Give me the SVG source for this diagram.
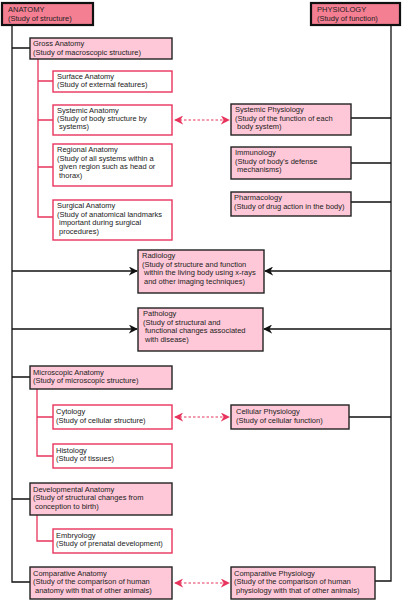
<svg xmlns="http://www.w3.org/2000/svg" width="408" height="600" viewBox="0 0 408 600">
<defs>
<style>
text{font-family:"Liberation Sans",Arial,sans-serif;font-size:7.5px;fill:#222}
.top{fill:#f47e92;stroke:#111;stroke-width:2.2}
.dk{fill:#ffc8d8;stroke:#222;stroke-width:1.4}
.wh{fill:#fff;stroke:#e8345c;stroke-width:1.4}
.bl{fill:none;stroke:#111;stroke-width:1.3}
.rd{fill:none;stroke:#e8345c;stroke-width:1.3}
.da{fill:none;stroke:#e8345c;stroke-width:1.2;stroke-dasharray:2.5 2}
</style>
<marker id="ab" viewBox="0 0 10 10" refX="9" refY="5" markerWidth="9" markerHeight="9" markerUnits="userSpaceOnUse" orient="auto"><path d="M0,0 L10,5 L0,10 L3,5 Z" fill="#111"/></marker>
<marker id="ar" viewBox="0 0 10 10" refX="9" refY="5" markerWidth="9" markerHeight="9" markerUnits="userSpaceOnUse" orient="auto-start-reverse"><path d="M0,0 L10,5 L0,10 L3,5 Z" fill="#e8345c"/></marker>
</defs>
<g id="connectors">
<path class="bl" d="M12,25 V582 H30"/>
<path class="bl" d="M12,48 H30 M12,377 H30 M12,499 H30"/>
<path class="bl" d="M12,271 H137" marker-end="url(#ab)"/>
<path class="bl" d="M12,329 H137" marker-end="url(#ab)"/>
<path class="bl" d="M391,25 V581 H375"/>
<path class="bl" d="M391,118 H351 M391,163 H351 M391,202 H351 M391,417 H349"/>
<path class="bl" d="M391,271 H265" marker-end="url(#ab)"/>
<path class="bl" d="M391,329 H264" marker-end="url(#ab)"/>
<path class="rd" d="M38,59 V217 H53 M38,81 H53 M38,120 H53 M38,167 H53"/>
<path class="rd" d="M37,389 V456 H53 M37,417 H53"/>
<path class="rd" d="M37,515 V541 H53"/>
<path class="da" d="M175,120 H229" marker-start="url(#ar)" marker-end="url(#ar)"/>
<path class="da" d="M175,417 H229" marker-start="url(#ar)" marker-end="url(#ar)"/>
<path class="da" d="M175,583 H229" marker-start="url(#ar)" marker-end="url(#ar)"/>
</g>
<g id="anatomy"><rect class="top" x="2" y="3" width="91" height="22"/><text x="8" y="12">ANATOMY</text><text x="8" y="20.5">(Study of structure)</text></g>
<g id="physiology"><rect class="top" x="311" y="3" width="89" height="22"/><text x="317" y="12">PHYSIOLOGY</text><text x="317" y="20.5">(Study of function)</text></g>
<g id="gross"><rect class="dk" x="30" y="38" width="142" height="21"/><text x="33" y="46">Gross Anatomy</text><text x="33" y="54.5">(Study of macroscopic structure)</text></g>
<g id="surface"><rect class="wh" x="53" y="71" width="119" height="21"/><text x="57" y="79">Surface Anatomy</text><text x="57" y="87.3">(Study of external features)</text></g>
<g id="systemic-anatomy"><rect class="wh" x="53" y="105" width="119" height="30"/><text x="57" y="112.7">Systemic Anatomy</text><text x="57" y="121">(Study of body structure by</text><text x="59" y="129.3">systems)</text></g>
<g id="regional"><rect class="wh" x="53" y="144" width="119" height="42"/><text x="57" y="152">Regional Anatomy</text><text x="57" y="160.5">(Study of all systems within a</text><text x="59" y="169">given region such as head or</text><text x="59" y="177.5">thorax)</text></g>
<g id="surgical"><rect class="wh" x="53" y="200" width="119" height="40"/><text x="57" y="208">Surgical Anatomy</text><text x="57" y="216.5">(Study of anatomical landmarks</text><text x="59" y="225">important during surgical</text><text x="59" y="233.5">procedures)</text></g>
<g id="systemic-physiology"><rect class="dk" x="231" y="104" width="120" height="31"/><text x="235" y="112">Systemic Physiology</text><text x="235" y="120.5">(Study of the function of each</text><text x="237" y="129">body system)</text></g>
<g id="immunology"><rect class="dk" x="231" y="147" width="120" height="32"/><text x="235" y="155">Immunology</text><text x="235" y="163.5">(Study of body's defense</text><text x="237" y="172">mechanisms)</text></g>
<g id="pharmacology"><rect class="dk" x="231" y="192" width="120" height="24"/><text x="234" y="200">Pharmacology</text><text x="234" y="208.5">(Study of drug action in the body)</text></g>
<g id="radiology"><rect class="dk" x="138" y="250" width="126" height="43"/><text x="142" y="258">Radiology</text><text x="142" y="266.5">(Study of structure and function</text><text x="144" y="275">within the living body using x-rays</text><text x="144" y="283.5">and other imaging techniques)</text></g>
<g id="pathology"><rect class="dk" x="138" y="308" width="125" height="43"/><text x="143" y="316">Pathology</text><text x="143" y="324.5">(Study of structural and</text><text x="145" y="333">functional changes associated</text><text x="145" y="341.5">with disease)</text></g>
<g id="microscopic"><rect class="dk" x="30" y="366" width="142" height="23"/><text x="33" y="374.5">Microscopic Anatomy</text><text x="33" y="383">(Study of microscopic structure)</text></g>
<g id="cytology"><rect class="wh" x="53" y="405" width="119" height="24"/><text x="56" y="414">Cytology</text><text x="56" y="422.5">(Study of cellular structure)</text></g>
<g id="histology"><rect class="wh" x="53" y="444" width="119" height="24"/><text x="56" y="452.5">Histology</text><text x="56" y="461">(Study of tissues)</text></g>
<g id="cellular-physiology"><rect class="dk" x="231" y="405" width="118" height="24"/><text x="236" y="414">Cellular Physiology</text><text x="236" y="422.5">(Study of cellular function)</text></g>
<g id="developmental"><rect class="dk" x="30" y="483" width="142" height="32"/><text x="33" y="491.5">Developmental Anatomy</text><text x="33" y="500">(Study of structural changes from</text><text x="35" y="508.5">conception to birth)</text></g>
<g id="embryology"><rect class="wh" x="53" y="529" width="119" height="24"/><text x="56" y="537.5">Embryology</text><text x="56" y="546">(Study of prenatal development)</text></g>
<g id="comparative-anatomy"><rect class="dk" x="30" y="567" width="142" height="32"/><text x="33" y="575.5">Comparative Anatomy</text><text x="33" y="584">(Study of the comparison of human</text><text x="35" y="592.5">anatomy with that of other animals)</text></g>
<g id="comparative-physiology"><rect class="dk" x="231" y="567" width="144" height="32"/><text x="234" y="575.5">Comparative Physiology</text><text x="234" y="584">(Study of the comparison of human</text><text x="236" y="592.5">physiology with that of other animals)</text></g>
</svg>
